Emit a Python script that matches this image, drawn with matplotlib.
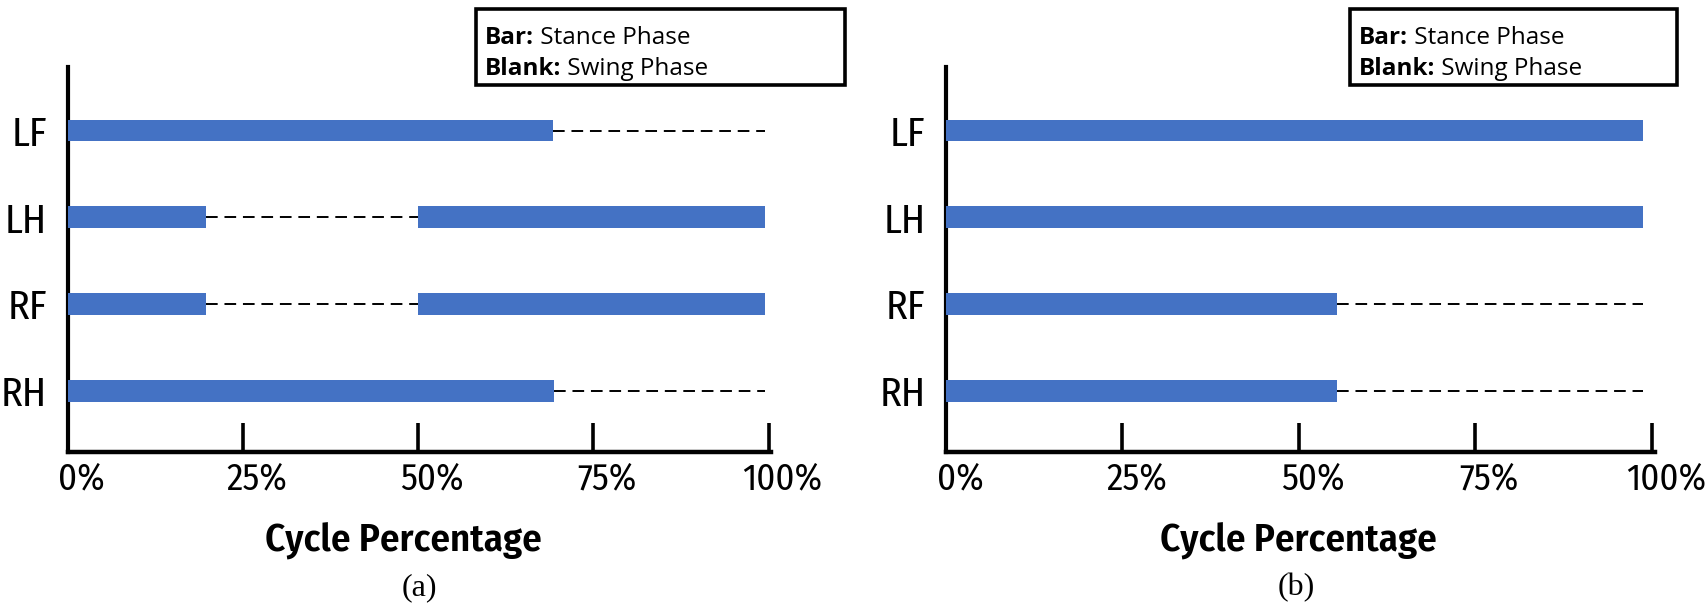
import matplotlib
matplotlib.use("Agg")
import matplotlib.pyplot as plt
from matplotlib.patches import Rectangle

# dados: fases de apoio (barra) por pata, em % do ciclo
legs = ["LF", "LH", "RF", "RH"]
xtick_vals = [0, 25, 50, 75, 100]
xtick_labels = ["0%", "25%", "50%", "75%", "100%"]

a_stance_start = [[0], [0, 50], [0, 50], [0]]
a_stance_end = [[69.3], [19.8, 99.5], [19.8, 99.5], [69.4]]
a_cycle_end = 99.5

b_stance_start = [[0], [0], [0], [0]]
b_stance_end = [[98.8], [98.8], [55.4], [55.4]]
b_cycle_end = 98.8

W, H = 1707, 609
BLUE = "#4472C4"
COND = ["Fira Sans Condensed", "DejaVu Sans"]
LEG = ["Open Sans", "DejaVu Sans"]


def fx(x):
    return x / W


def fy(y):
    return 1 - y / H


fig = plt.figure(figsize=(W / 100, H / 100), dpi=100)
renderer = fig.canvas.get_renderer()


def painel(x0, x100, xend, starts, ends, cycle_end, letra, lab_x, letra_x, box):
    # eixo posicionado em pixels da figura
    y_top, y_bot = 67.5, 451.8
    xmax = 100 * (xend - x0) / (x100 - x0)
    ax = fig.add_axes([fx(x0), fy(y_bot), (xend - x0) / W, (y_bot - y_top) / H])
    ax.set_xlim(0, xmax)
    ax.set_ylim(-0.704, 3.728)

    ypos = list(range(len(legs) - 1, -1, -1))
    for yi, st, en in zip(ypos, starts, ends):
        for s, e in zip(st, en):
            ax.barh(yi, e - s, left=s, height=0.25, color=BLUE, zorder=3)
        # linhas tracejadas nos intervalos sem apoio (fase de balanço)
        cur = 0
        for s, e in sorted(zip(st, en)):
            if s > cur:
                ax.plot([cur, s], [yi, yi], color="black", lw=1.4, ls=(0, (6, 3.5)), zorder=2)
            cur = max(cur, e)
        if cur < cycle_end:
            ax.plot([cur, cycle_end], [yi, yi], color="black", lw=1.4, ls=(0, (6, 3.5)), zorder=2)

    for side in ["top", "right"]:
        ax.spines[side].set_visible(False)
    ax.spines["left"].set_linewidth(3)
    ax.spines["bottom"].set_linewidth(3.2)

    ax.set_yticks(ypos)
    ax.set_yticklabels(legs, family=COND, fontsize=29)
    ax.tick_params(axis="y", length=0, pad=15)

    ax.set_xticks(xtick_vals)
    ax.tick_params(axis="x", direction="in", length=21, width=2.6, labelbottom=False)

    for v, lab in zip(xtick_vals, xtick_labels):
        ax.text(v + 2.0, -0.07, lab, transform=ax.get_xaxis_transform(),
                ha="center", va="center", family=COND, fontsize=26.5)

    fig.text(fx(lab_x), fy(541), "Cycle Percentage", ha="center", va="center",
             family=COND, fontsize=28, fontweight="semibold")
    fig.text(fx(letra_x), fy(588), letra, ha="center", va="center",
             family="Liberation Serif", fontsize=23)

    # caixa da legenda
    bx0, by0, bx1, by1 = box
    fig.add_artist(Rectangle((fx(bx0), fy(by1)), (bx1 - bx0) / W, (by1 - by0) / H,
                             transform=fig.transFigure, facecolor="white",
                             edgecolor="black", lw=2.6, zorder=1))
    for yy, bold, rest in [(38.5, "Bar:", " Stance Phase"), (69, "Blank:", " Swing Phase")]:
        t1 = fig.text(fx(bx0 + 9), fy(yy), bold, ha="left", va="center",
                      family=LEG, fontsize=17.5, fontweight="bold", zorder=3)
        bb = t1.get_window_extent(renderer)
        fig.text(bb.x1 / W, fy(yy), rest, ha="left", va="center",
                 family=LEG, fontsize=17.5, zorder=3)
    return ax


painel(67.5, 768.6, 771.0, a_stance_start, a_stance_end, a_cycle_end,
       "(a)", 403, 419, (476, 8.7, 845, 85))
painel(946.1, 1651.6, 1654.8, b_stance_start, b_stance_end, b_cycle_end,
       "(b)", 1298, 1296, (1350, 8.7, 1677, 85))

fig.savefig("out.png", dpi=100)
